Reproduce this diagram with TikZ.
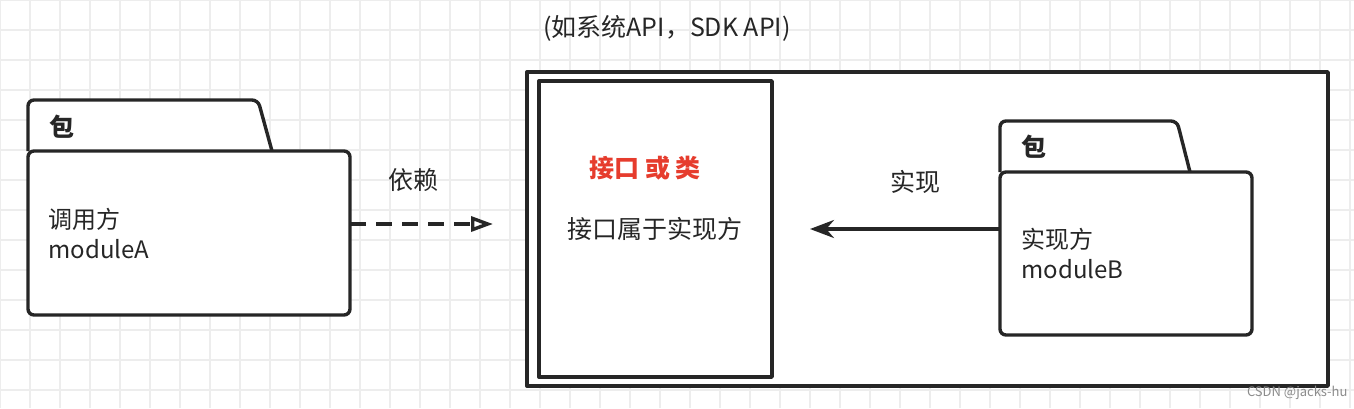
\documentclass[tikz,border=0pt]{standalone}
\usepackage{fontspec}
\setmainfont{Noto Sans CJK SC}
\usetikzlibrary{arrows.meta}
\begin{document}
\begin{tikzpicture}[x=1pt,y=-1pt,
  ln/.style={draw=black!85,line width=3.4pt,rounded corners=6pt,line join=round},
  tx/.style={font=\fontsize{25}{30}\selectfont,text=black!85,align=left}]
\useasboundingbox (0,0) rectangle (1354,408);
\fill[white] (0,0) rectangle (1354,408);
\foreach \i in {0,30,...,1350} \draw[black!7,line width=1.2pt] (\i,0) -- (\i,408);
\foreach \j in {0,30,...,400} \draw[black!7,line width=1.2pt] (0,\j) -- (1354,\j);
% left package
\draw[ln,fill=white] (28,151) -- (28,100) -- (258,100) -- (272,151);
\draw[ln,fill=white] (28,151) rectangle (350,315);
\node[tx,font=\fontsize{25}{30}\selectfont\bfseries,anchor=west] (pa) at (46,127) {包};
\node[tx,anchor=west,font=\fontsize{24}{30}\selectfont] (ta) at (45,233) {调用方\\moduleA};
\coordinate (aout) at (350,224);
% outer
\draw[ln,rounded corners=0pt,fill=white] (527,72) rectangle (1328,386);
\draw[ln,rounded corners=0pt] (539,81) rectangle (772,377);
\node[font=\fontsize{25}{30}\selectfont\bfseries,text={rgb,255:red,230;green,60;blue,45}] (t1) at (645,168) {接口 或 类};
\node[tx] (t2) at (655,229) {接口属于实现方};
\node[tx] (title) at (667,28) {(如系统API，SDK API)};
% right package
\draw[ln,fill=white] (1000,172) -- (1000,121) -- (1177,121) -- (1190,172);
\draw[ln,fill=white] (1000,172) rectangle (1252,335);
\node[tx,font=\fontsize{25}{30}\selectfont\bfseries,anchor=west] (pb) at (1018,147) {包};
\node[tx,anchor=west,font=\fontsize{24}{30}\selectfont] (tb) at (1018,253) {实现方\\moduleB};
\coordinate (bout) at (1000,229);
\coordinate (bin) at (810,229);
\coordinate (ain) at (493,224);
% arrows
\draw[black!85,line width=3.4pt,dash pattern=on 16pt off 10pt,-{Triangle[open,length=22pt,width=15pt,line width=3.4pt]}] (aout) -- (ain);
\draw[black!85,line width=3.4pt,-{Stealth[length=24pt,width=18pt]}] (bout) -- (bin);
\node[tx] (l1) at (413,180) {依赖};
\node[tx] (l2) at (915,182) {实现};
\node[font=\fontsize{13}{15}\selectfont,text=black!45,anchor=east] (wm) at (1351,393) {CSDN @jacks-hu};
\end{tikzpicture}
\end{document}
